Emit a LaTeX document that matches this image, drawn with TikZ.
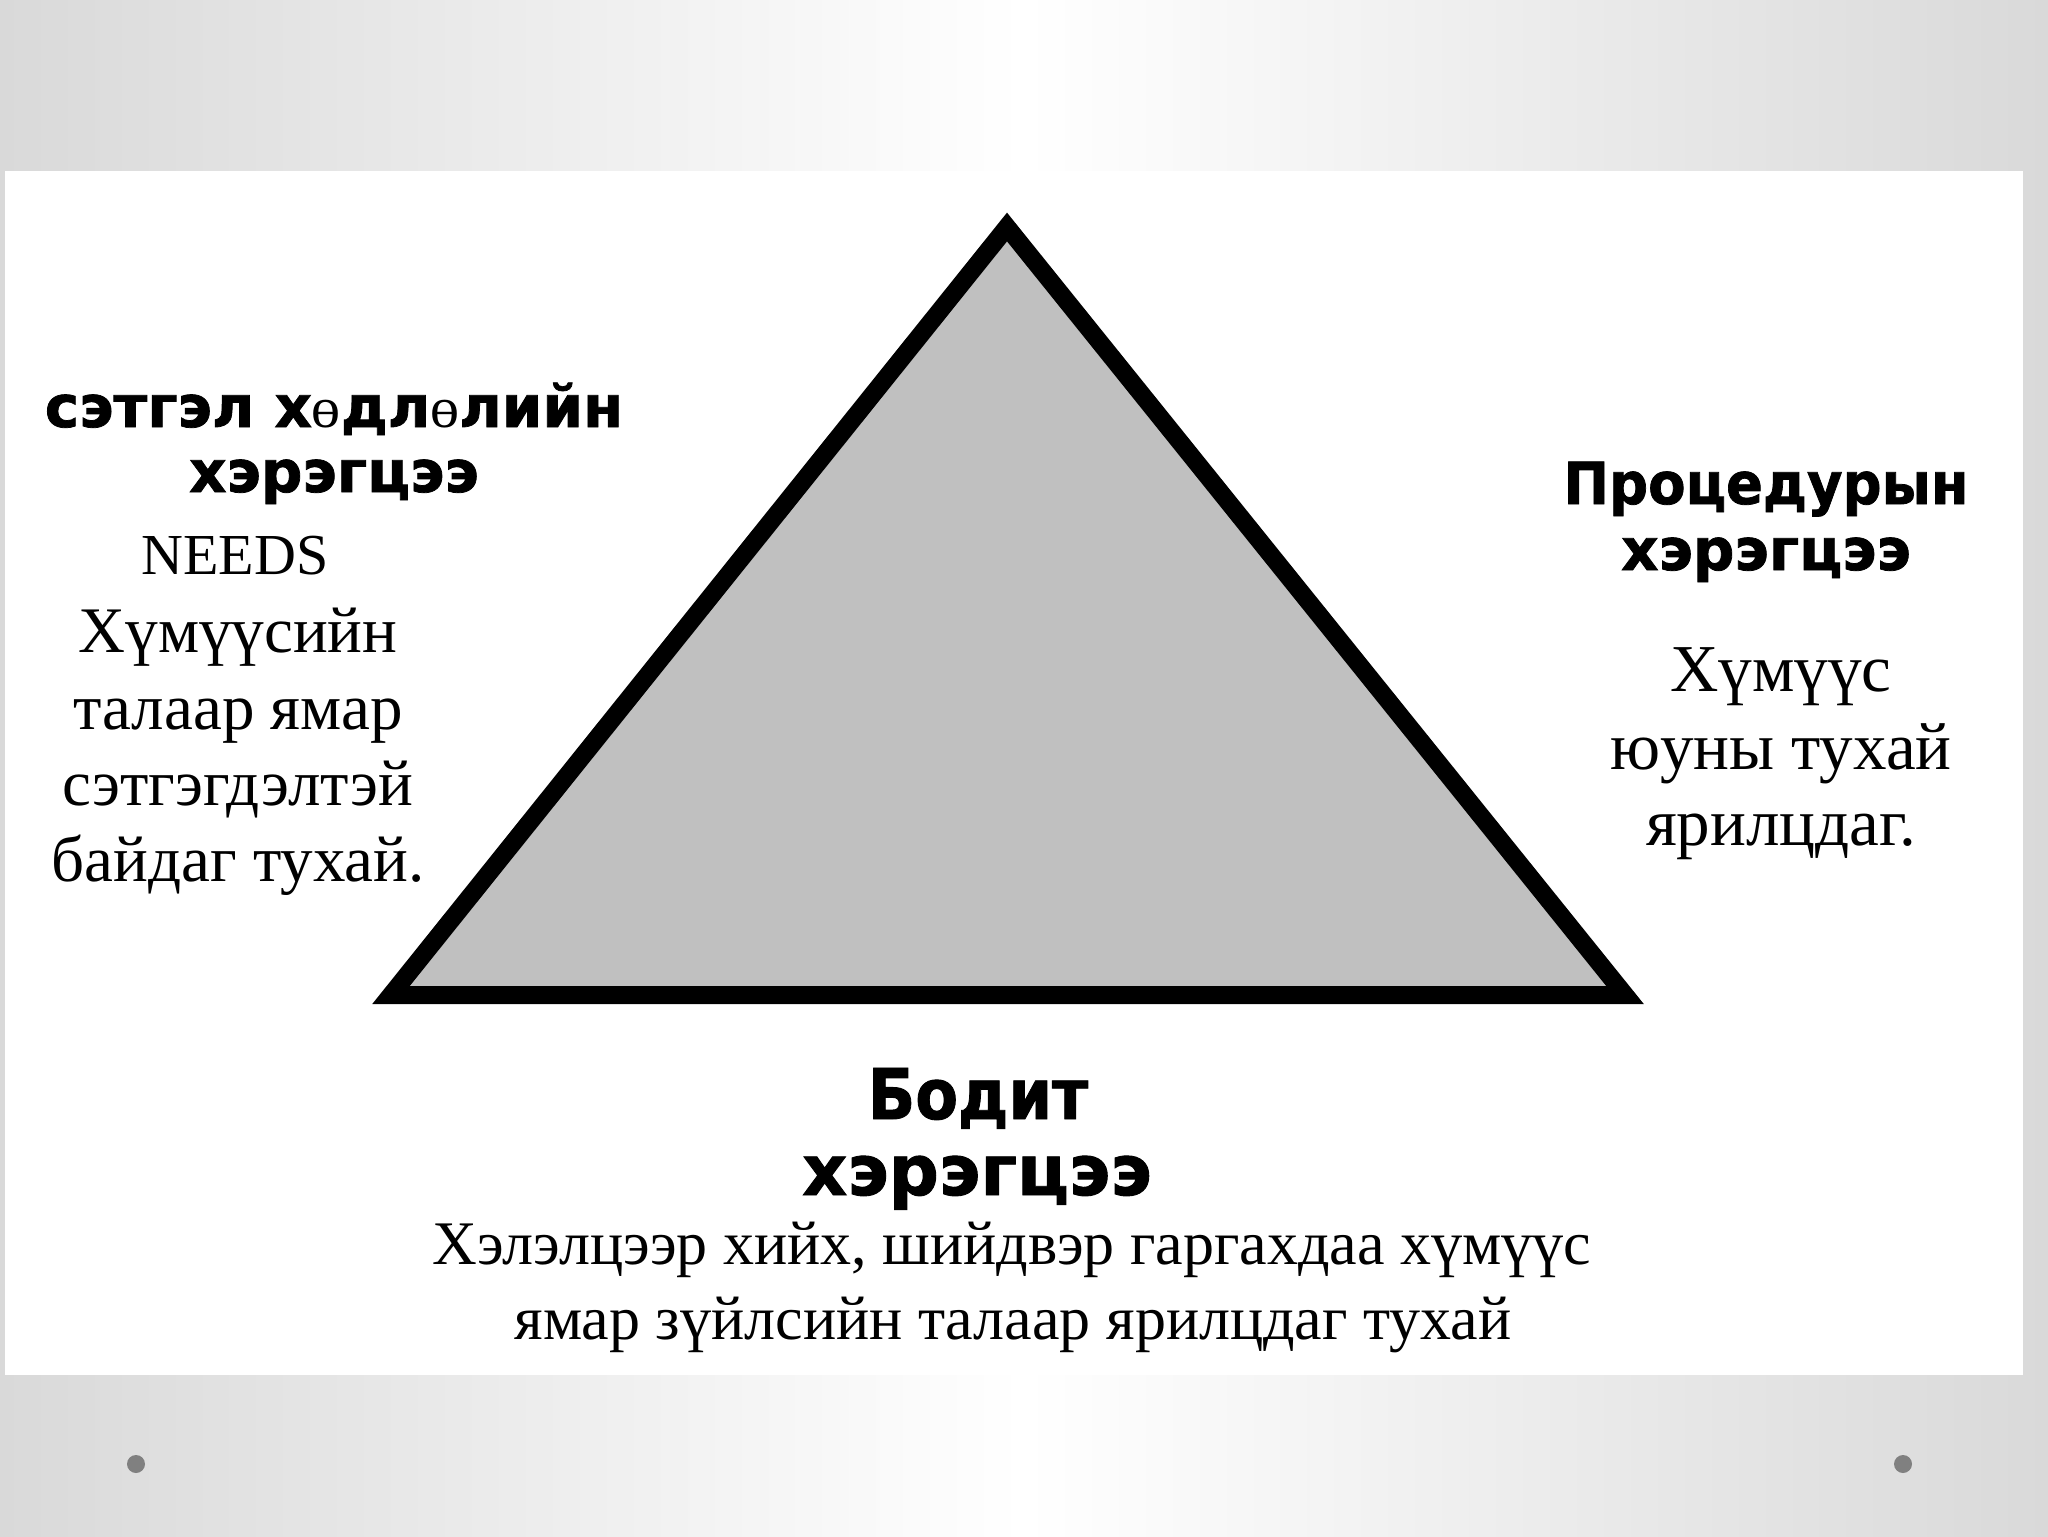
\documentclass[tikz,border=0pt]{standalone}
\usepackage{fontspec}
\setmainfont{Liberation Serif}
\newfontfamily\headfont{DejaVu Sans}[FakeBold=1.3]
\newfontfamily\oefont{Liberation Serif}
\newcommand\mnoe{{\oefont\mdseries ө}}
\definecolor{trifill}{RGB}{192,192,192}
\definecolor{framegray}{RGB}{217,217,217}
\definecolor{dotgray}{RGB}{128,128,128}
\begin{document}
\begin{tikzpicture}[x=0.5pt,y=-0.5pt,
  head/.style={font=\headfont\bfseries\fontsize{29pt}{33pt}\selectfont, anchor=base, inner sep=0pt},
  bighead/.style={font=\headfont\bfseries\fontsize{35pt}{40pt}\selectfont, anchor=base, inner sep=0pt},
  body/.style={font=\fontsize{32.5pt}{38pt}\selectfont, anchor=base, inner sep=0pt},
  rbody/.style={font=\fontsize{33.5pt}{38pt}\selectfont, anchor=base, inner sep=0pt},
  bbody/.style={font=\fontsize{31pt}{38pt}\selectfont, anchor=base, inner sep=0pt},
  needs/.style={font=\fontsize{29pt}{34pt}\selectfont, anchor=base, inner sep=0pt},
  tri/.style={line width=9pt, fill=trifill, draw=black, line join=miter}]
\useasboundingbox (0,0) rectangle (2048,1536);
\shade[left color=framegray, right color=framegray, middle color=white] (0,0) rectangle (2048,1536);
\fill[white] (5,171) rectangle (2023,1375);
\fill[dotgray] (136,1464) circle[radius=9];
\fill[dotgray] (1903,1464) circle[radius=9];
% triangle
\coordinate (apex) at (1007,227);
\coordinate (bl) at (391,995);
\coordinate (br) at (1625,995);
\draw[tri] (apex) -- (bl) -- (br) -- cycle;
% left block
\node[head] (l1) at (334,427) {сэтгэл х\mnoe дл\mnoe лийн};
\node[head] (l2) at (334,492) {хэрэгцээ};
\node[needs] (l3) at (235,574) {NEEDS};
\node[body] (l4) at (238,652) {Хүмүүсийн};
\node[body] (l5) at (238,729) {талаар ямар};
\node[body] (l6) at (238,805) {сэтгэгдэлтэй};
\node[body] (l7) at (238,881) {байдаг тухай.};
% right block
\node[head, xscale=0.94] (r1) at (1766,504) {Процедурын};
\node[head] (r2) at (1766,570) {хэрэгцээ};
\node[rbody] (r3) at (1781,691) {Хүмүүс};
\node[rbody] (r4) at (1781,769) {юуны тухай};
\node[rbody] (r5) at (1781,845) {ярилцдаг.};
% bottom block
\node[bighead, xscale=0.89] (b1) at (978,1119) {Бодит};
\node[bighead] (b2) at (977,1195) {хэрэгцээ};
\node[bbody] (b3) at (1012,1264) {Хэлэлцээр хийх, шийдвэр гаргахдаа хүмүүс};
\node[bbody] (b4) at (1013,1339) {ямар зүйлсийн талаар ярилцдаг тухай};
\end{tikzpicture}
\end{document}
